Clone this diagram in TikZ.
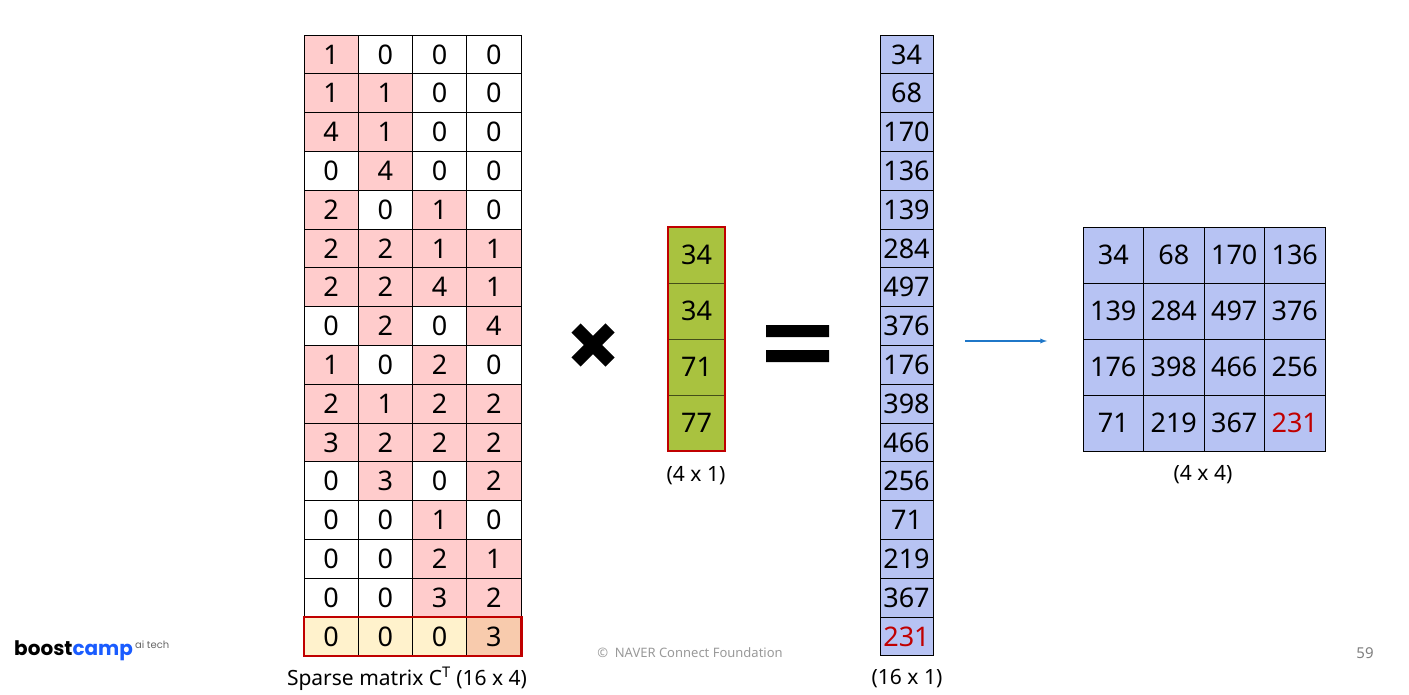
\documentclass[tikz,border=0pt]{standalone}
\usepackage{fontspec}
\setmainfont{Noto Sans}
\newfontfamily\logofont{Poppins}
\begin{document}
\begin{tikzpicture}[x=1pt,y=-1pt,
  num/.style={font=\fontsize{27}{27}\selectfont},
  lbl/.style={font=\fontsize{21}{21}\selectfont},
  cellbox/.style={draw=black,line width=0.8pt}]
\definecolor{pk}{HTML}{FFCCCC}
\definecolor{yl}{HTML}{FFF2CC}
\definecolor{og}{HTML}{F8CBAD}
\definecolor{gr}{HTML}{A9C23F}
\definecolor{bl}{HTML}{B7C3F3}
\definecolor{rd}{HTML}{C00000}
\useasboundingbox (0,0) rectangle (1409,695);
% sparse matrix
\def\cw{54.25}\def\rh{38.8}
\foreach \row [count=\i from 0] in {{1,0,0,0},{1,1,0,0},{4,1,0,0},{0,4,0,0},{2,0,1,0},{2,2,1,1},{2,2,4,1},{0,2,0,4},{1,0,2,0},{2,1,2,2},{3,2,2,2},{0,3,0,2},{0,0,1,0},{0,0,2,1},{0,0,3,2}}{
  \foreach \v [count=\j from 0] in \row {
    \ifnum\v=0 \def\fc{white}\else\def\fc{pk}\fi
    \node[cellbox,fill=\fc,minimum width=\cw pt,minimum height=\rh pt,inner sep=0,num] (s\i-\j) at (304+\cw*\j+\cw/2,35+\rh*\i+\rh/2) {\v};
  }
}
\foreach \v/\c [count=\j from 0] in {0/yl,0/yl,0/yl,3/og}{
  \node[cellbox,fill=\c,minimum width=\cw pt,minimum height=\rh pt,inner sep=0,num] (s15-\j) at (304+\cw*\j+\cw/2,35+\rh*15+\rh/2) {\v};
}
\draw[rd,line width=2.2pt] (s15-0.north west) rectangle (s15-3.south east);
\node[lbl] (slab) at (407,679) {Sparse matrix C$^{\mathrm{T}}$ (16 x 4)};
% times
\draw[line width=13pt] (576,328)--(610,362) (610,328)--(576,362);
% vector
\foreach \v [count=\i from 0] in {34,34,71,77}{
  \node[draw=black!60!gr,fill=gr,minimum width=57pt,minimum height=56pt,inner sep=0,num] (v\i) at (696.5,227+56*\i+28) {\v};
}
\draw[rd,line width=2pt] (v0.north west) rectangle (v3.south east);
\node[lbl] (vlab) at (696,476) {(4 x 1)};
% equal
\fill (766,325) rectangle (829,337) (766,350) rectangle (829,362);
% result column
\foreach \v [count=\i from 0] in {34,68,170,136,139,284,497,376,176,398,466,256,71,219,367}{
  \node[cellbox,fill=bl,minimum width=53pt,minimum height=\rh pt,inner sep=0,num] (r\i) at (906.5,35+\rh*\i+\rh/2) {\v};
}
\node[cellbox,fill=bl,minimum width=53pt,minimum height=\rh pt,inner sep=0,num,text=rd] (r15) at (906.5,35+\rh*15+\rh/2) {231};
\node[lbl] (rlab) at (907,679) {(16 x 1)};
% arrow
\coordinate (a1) at (965,341); \coordinate (a2) at (1047,341);
\draw[-latex,color={rgb,255:red,31;green,119;blue,200},line width=1.3pt] (a1)--(a2);
% output
\foreach \row [count=\i from 0] in {{34,68,170,136},{139,284,497,376},{176,398,466,256},{71,219,367,{\textcolor{rd}{231}}}}{
  \foreach \v [count=\j from 0] in \row {
    \node[cellbox,fill=bl,minimum width=60.5pt,minimum height=56pt,inner sep=0,num] (o\i-\j) at (1083+60.5*\j+30.25,227+56*\i+28) {\v};
  }
}
\node[lbl] (olab) at (1203,475) {(4 x 4)};
% footer
\node[anchor=west,inner sep=0,font=\logofont\fontsize{20}{20}\selectfont\bfseries] (logo) at (14,651) {boost\textcolor[HTML]{1A5CFF}{camp}};
\node[anchor=west,inner sep=0,font=\logofont\fontsize{10}{10}\selectfont,text=black!60] (ai) at (logo.east |- 0,645) {\,ai tech};
\node[font=\fontsize{13}{13}\selectfont,text=black!40] (copy) at (690,653) {\textcopyright\ \ NAVER Connect Foundation};
\node[font=\fontsize{15}{15}\selectfont,text=black!50] (pg) at (1365,653) {59};
\end{tikzpicture}
\end{document}
